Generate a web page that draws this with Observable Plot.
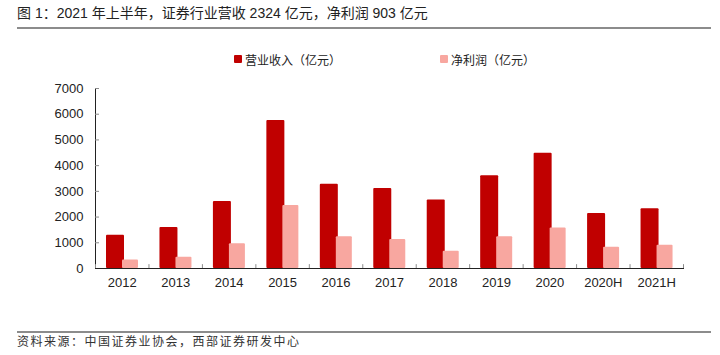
<!DOCTYPE html>
<html><head><meta charset="utf-8">
<script src="https://cdn.jsdelivr.net/npm/d3@7"></script>
<script src="https://cdn.jsdelivr.net/npm/@observablehq/plot@0.6"></script>
<style>
body{margin:0;width:720px;height:355px;position:relative;background:#fff;overflow:hidden;font-family:"Liberation Sans","Noto Sans CJK SC",sans-serif}
#title{position:absolute;left:17px;top:4px;font-size:14px;line-height:18px;color:#222;white-space:nowrap}
.rule{position:absolute;left:17px;width:694px;height:2px;background:#8c8c8c}
.item{position:absolute;top:51px;height:16px;display:flex;align-items:center;font-size:12px;color:#222;white-space:nowrap}
.sw{width:8px;height:8px;margin-right:3px;border-radius:1px}
#chart{position:absolute;left:0;top:70px}
#caption{position:absolute;left:17px;top:335px;font-size:12px;line-height:15px;color:#333;letter-spacing:1.5px;white-space:nowrap}
#chart g[aria-label$="axis line"], #chart g[aria-label$="axis tick"]{stroke:#8c8c8c}
</style>
</head><body>
<div id="title">图 1：2021 年上半年，证券行业营收 2324 亿元，净利润 903 亿元</div>
<div class="rule" style="top:27px"></div>
<div id="legend"></div>
<div id="chart"></div>
<div class="rule" style="top:331px"></div>
<div id="caption">资料来源：中国证券业协会，西部证券研发中心</div>
<script>
const categories = ["2012","2013","2014","2015","2016","2017","2018","2019","2020","2020H","2021H"];
const revenue = [1294.71, 1592.41, 2602.84, 5751.55, 3279.94, 3113.28, 2662.87, 3604.83, 4484.79, 2141.90, 2324.18];
const profit = [329.30, 440.21, 965.54, 2447.63, 1234.45, 1129.95, 666.20, 1230.95, 1575.34, 830.86, 902.79];
const yTicks = [0, 1000, 2000, 3000, 4000, 5000, 6000, 7000];
const seriesNames = ["营业收入（亿元）", "净利润（亿元）"];
const seriesColors = ["#C00000", "#F8A7A0"];

const legend = document.getElementById("legend");
const legendX = [234, 440];
seriesNames.forEach((n, i) => {
  const it = document.createElement("div");
  it.className = "item";
  it.style.left = legendX[i] + "px";
  it.innerHTML = `<span class="sw" style="background:${seriesColors[i]}"></span>${n}`;
  legend.appendChild(it);
});

const revData = categories.map((c, i) => ({cat: c, value: revenue[i]}));
const proData = categories.map((c, i) => ({cat: c, value: profit[i]}));

const W = 720, H = 230, mL = 95, mR = 37, mT = 18, mB = 32;
const bw = (W - mL - mR) / categories.length;

const plot = Plot.plot({
  width: W, height: H,
  marginLeft: mL, marginRight: mR, marginTop: mT, marginBottom: mB,
  style: {fontFamily: "Liberation Sans, Arial, sans-serif", fontSize: "13px", color: "#222", background: "transparent"},
  x: {domain: categories, padding: 0, round: false, tickSize: 0, tickPadding: 9, label: null, line: true},
  y: {domain: [0, 7000], ticks: yTicks, tickSize: -4, tickPadding: 16, label: null, line: true, tickFormat: d => String(d)},
  marks: [
    Plot.barY(revData, {x: "cat", y: "value", fill: seriesColors[0], insetLeft: 11, insetRight: bw - 29, rx: 1}),
    Plot.barY(proData, {x: "cat", y: "value", fill: seriesColors[1], insetLeft: 27, insetRight: bw - 43, rx: 1}),
    Plot.ruleX(categories, {x: d => d, y1: 0, y2: 150, dx: -bw / 2, stroke: "#8c8c8c"}),
    Plot.ruleX([categories[categories.length - 1]], {x: d => d, y1: 0, y2: 150, dx: bw / 2, stroke: "#8c8c8c"})
  ]
});
document.getElementById("chart").appendChild(plot);
</script>
</body></html>
